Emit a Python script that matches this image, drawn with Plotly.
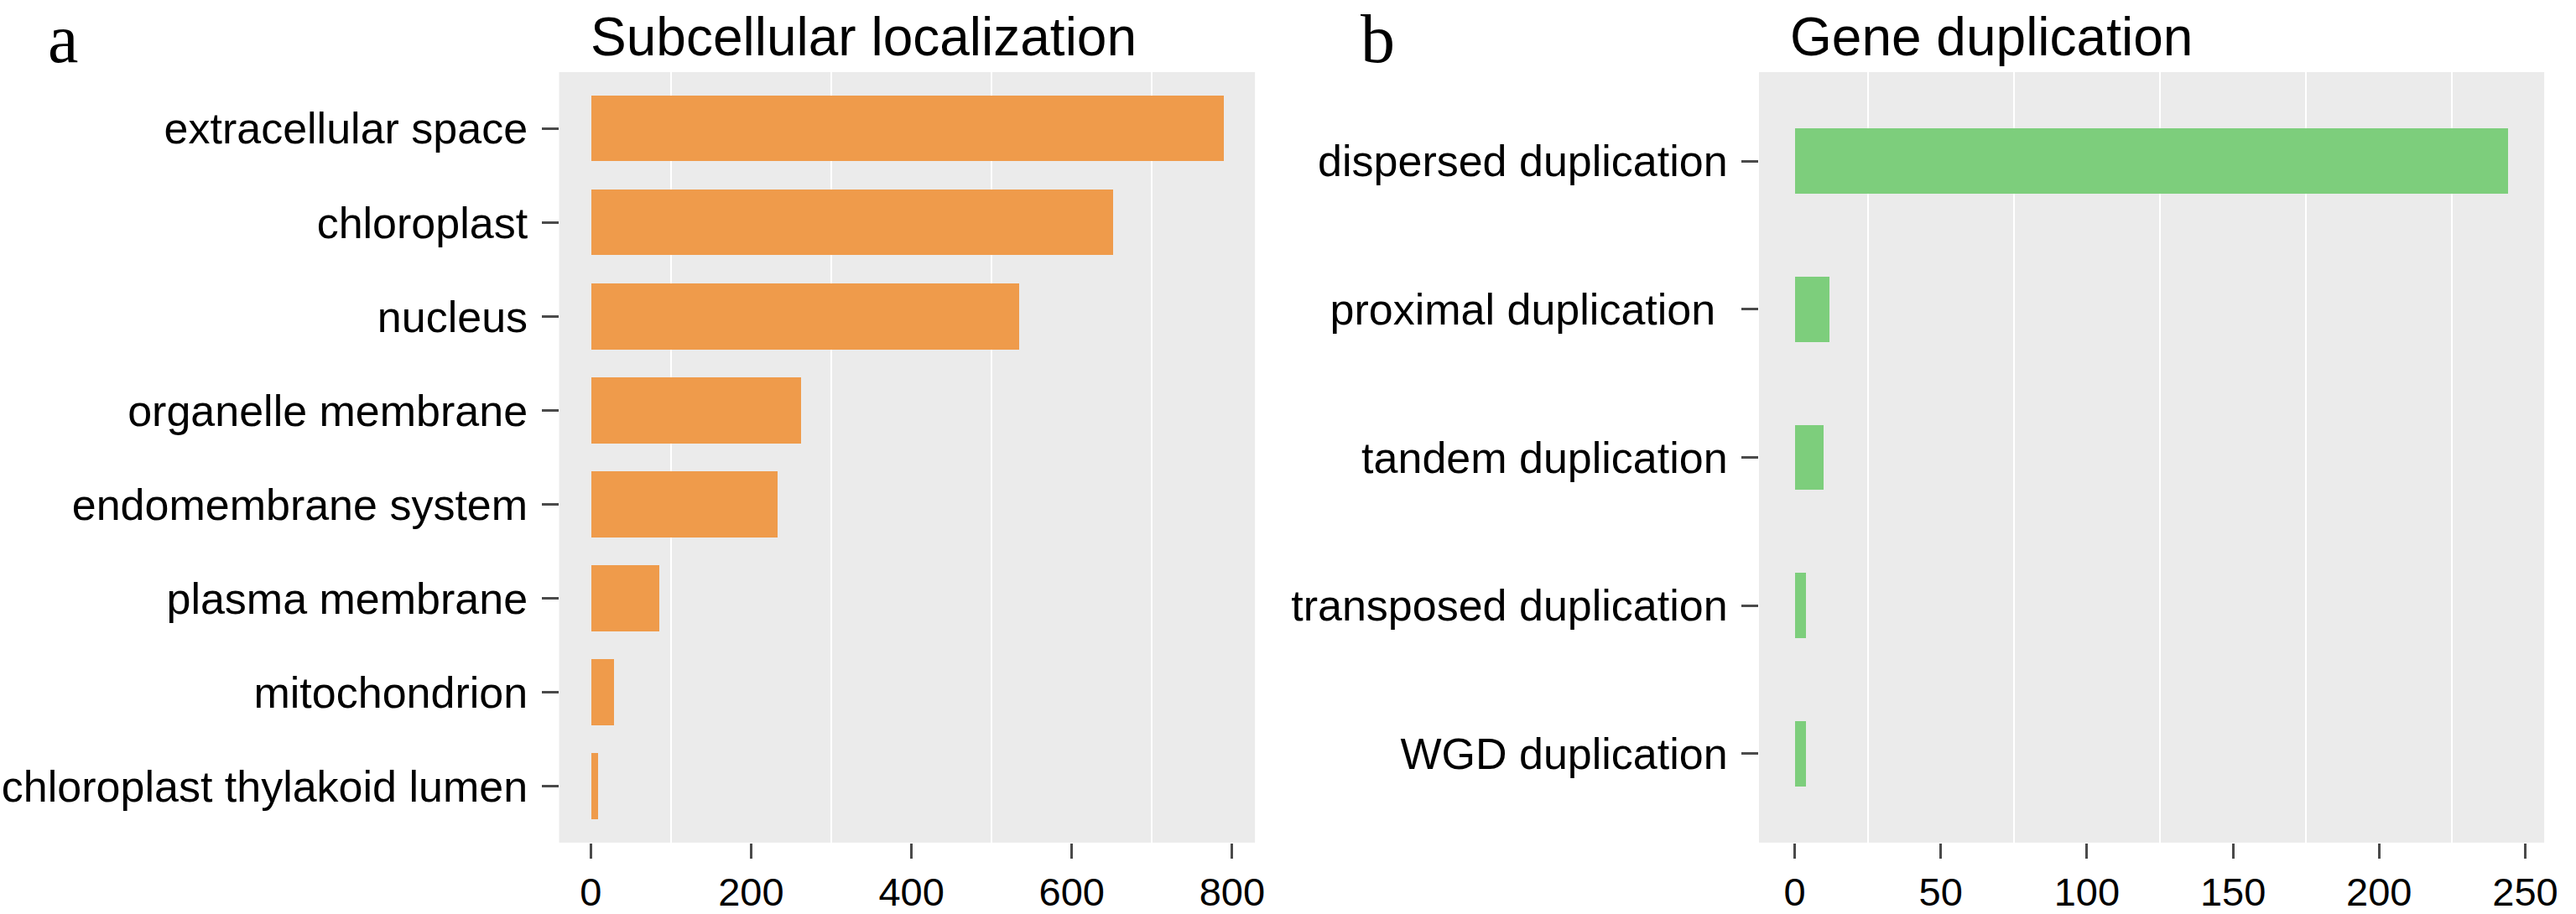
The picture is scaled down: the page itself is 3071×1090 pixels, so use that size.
import plotly.graph_objects as go

# ---- data (top-to-bottom order as displayed) ----
loc_categories = ["extracellular space", "chloroplast", "nucleus", "organelle membrane",
                  "endomembrane system", "plasma membrane", "mitochondrion",
                  "chloroplast thylakoid lumen"]
loc_counts = [789, 651, 534, 262, 232, 85, 28, 9]

dup_categories = ["dispersed duplication", "proximal duplication\u00a0", "tandem duplication",
                  "transposed duplication", "WGD duplication"]
dup_counts = [244, 12, 10, 4, 4]

loc_ticks = [0, 200, 400, 600, 800]
loc_minor = [100, 300, 500, 700]
dup_ticks = [0, 50, 100, 150, 200, 250]
dup_minor = [25, 75, 125, 175, 225]

W, H = 3071, 1090
ORANGE = "#EF9B4B"
GREEN = "#7DCE7C"
PANEL = "#EBEBEB"
SANS = "Liberation Sans, Arial, sans-serif"
SERIF = "Liberation Serif, Times New Roman, serif"

def px(x):
    return x / W

def py(y):
    return 1 - y / H

fig = go.Figure()
fig.add_trace(go.Bar(x=loc_counts, y=loc_categories, orientation="h",
                     marker=dict(color=ORANGE, line=dict(width=0)), width=0.7,
                     xaxis="x", yaxis="y", showlegend=False))
fig.add_trace(go.Bar(x=dup_counts, y=dup_categories, orientation="h",
                     marker=dict(color=GREEN, line=dict(width=0)), width=0.44,
                     xaxis="x2", yaxis="y2", showlegend=False))

ytick = dict(ticks="outside", ticklen=20, tickwidth=2.5, tickcolor="#4a4a4a",
             showline=False, zeroline=False)
xtick = dict(ticks="outside", ticklen=18, tickwidth=2.5, tickcolor="#4a4a4a",
             showline=False, zeroline=False)

PANEL_TOP, PANEL_BOTTOM = 87, 1016

fig.update_layout(
    width=W, height=H,
    margin=dict(l=0, r=0, t=0, b=0),
    paper_bgcolor="white",
    plot_bgcolor=PANEL,
    font=dict(family=SANS, color="black"),
    bargap=0,
    xaxis=dict(domain=[px(670), px(1504)], range=[-39.5, 828.5], anchor="y",
               tickvals=loc_ticks, showgrid=False,
               minor=dict(tickvals=loc_minor, showgrid=True, gridcolor="white",
                          gridwidth=2, ticks=""),
               tickfont=dict(size=47, family=SANS), ticklabelstandoff=0, **xtick),
    yaxis=dict(domain=[py(PANEL_BOTTOM), py(PANEL_TOP)], anchor="x", type="category",
               categoryorder="array", categoryarray=loc_categories,
               range=[len(loc_categories) - 1 + 0.6, -0.6], showgrid=False,
               tickfont=dict(size=52, family=SANS), ticklabelstandoff=6, **ytick),
    xaxis2=dict(domain=[px(2108), px(3049)], range=[-12.2, 256.5], anchor="y2",
                tickvals=dup_ticks, showgrid=False,
                minor=dict(tickvals=dup_minor, showgrid=True, gridcolor="white",
                           gridwidth=2, ticks=""),
                tickfont=dict(size=47, family=SANS), ticklabelstandoff=0, **xtick),
    yaxis2=dict(domain=[py(PANEL_BOTTOM), py(PANEL_TOP)], anchor="x2", type="category",
                categoryorder="array", categoryarray=dup_categories,
                range=[len(dup_categories) - 1 + 0.6, -0.6], showgrid=False,
                tickfont=dict(size=52, family=SANS), ticklabelstandoff=6, **ytick),
    annotations=[
        dict(text="Subcellular localization", x=px(706), y=py(44), xref="paper", yref="paper",
             xanchor="left", yanchor="middle", showarrow=False,
             font=dict(size=64, family=SANS, color="black")),
        dict(text="Gene duplication", x=px(2143), y=py(44), xref="paper", yref="paper",
             xanchor="left", yanchor="middle", showarrow=False,
             font=dict(size=64, family=SANS, color="black")),
        dict(text="a", x=px(75), y=1, xref="paper", yref="paper",
             xanchor="center", yanchor="top", showarrow=False, borderpad=0,
             font=dict(size=82, family=SERIF, color="black")),
        dict(text="b", x=px(1651), y=1, xref="paper", yref="paper",
             xanchor="center", yanchor="top", showarrow=False, borderpad=0,
             font=dict(size=82, family=SERIF, color="black")),
    ],
)

# remove the browser's default 8px body margin so the figure fills the window exactly
fig.write_html("out.html", config={"displayModeBar": False},
               post_script="document.body.style.margin='0';")
